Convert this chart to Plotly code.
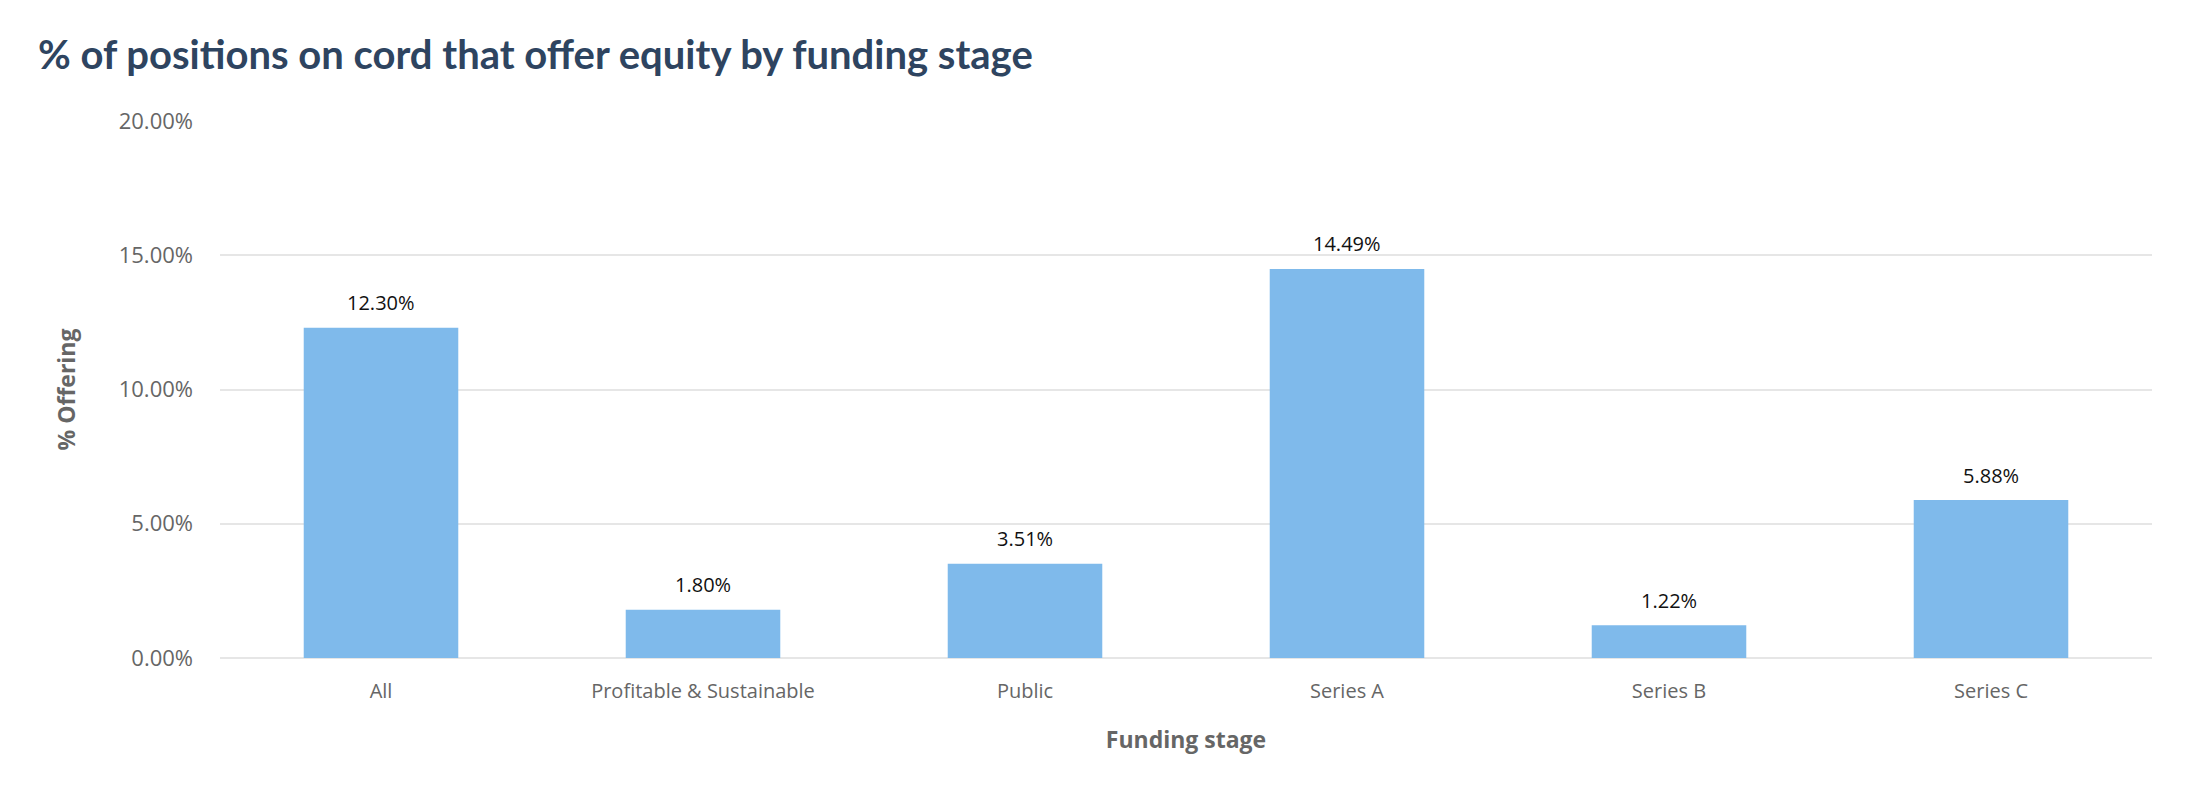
import plotly.graph_objects as go

categories = ["All", "Profitable & Sustainable", "Public", "Series A", "Series B", "Series C"]
values = [12.30, 1.80, 3.51, 14.49, 1.22, 5.88]
y_ticks = [0, 5, 10, 15, 20]
y_tick_labels = ["0.00%", "5.00%", "10.00%", "15.00%", "20.00%"]

title_text = "% of positions on cord that offer equity by funding stage"
x_title = "Funding stage"
y_title = "% Offering"

BAR_COLOR = "#7fbaeb"
GRID = "#e6e6e6"
TICK_COLOR = "#666666"

fig = go.Figure()
fig.add_trace(go.Bar(
    x=categories,
    y=values,
    marker=dict(color=BAR_COLOR, line=dict(width=0)),
    hoverinfo="skip",
))

for c, v in zip(categories, values):
    fig.add_annotation(
        x=c, y=v, xref="x", yref="y",
        text=f"{v:.2f}%",
        showarrow=False,
        yanchor="middle",
        yshift=25,
        font=dict(family="Open Sans", size=20, color="#111111"),
    )

fig.update_layout(
    width=2212, height=812,
    margin=dict(l=220, r=60, t=121, b=154),
    paper_bgcolor="white",
    plot_bgcolor="white",
    bargap=0.52,
    showlegend=False,
    title=dict(
        text=title_text,
        x=38 / 2212, xref="container", xanchor="left",
        y=1 - 55 / 812, yref="container", yanchor="middle",
        font=dict(family="Lato", size=40, color="#2e4460", weight="bold"),
    ),
    xaxis=dict(
        showgrid=False,
        showline=False,
        zeroline=False,
        tickfont=dict(family="Open Sans", size=20, color=TICK_COLOR),
        ticklabelstandoff=19,
        title=dict(text=x_title, standoff=28,
                   font=dict(family="Open Sans", size=23, color="#666666", weight="bold")),
    ),
    yaxis=dict(
        range=[0, 20],
        tickvals=y_ticks,
        ticktext=y_tick_labels,
        showgrid=True,
        gridcolor=GRID,
        gridwidth=1.5,
        zeroline=True,
        zerolinecolor=GRID,
        zerolinewidth=1.5,
        showline=False,
        tickfont=dict(family="Open Sans", size=22, color=TICK_COLOR),
        ticklabelstandoff=26,
        title=dict(text=y_title, standoff=36,
                   font=dict(family="Open Sans", size=23, color="#666666", weight="bold")),
    ),
)

fig.write_html("out.html")
